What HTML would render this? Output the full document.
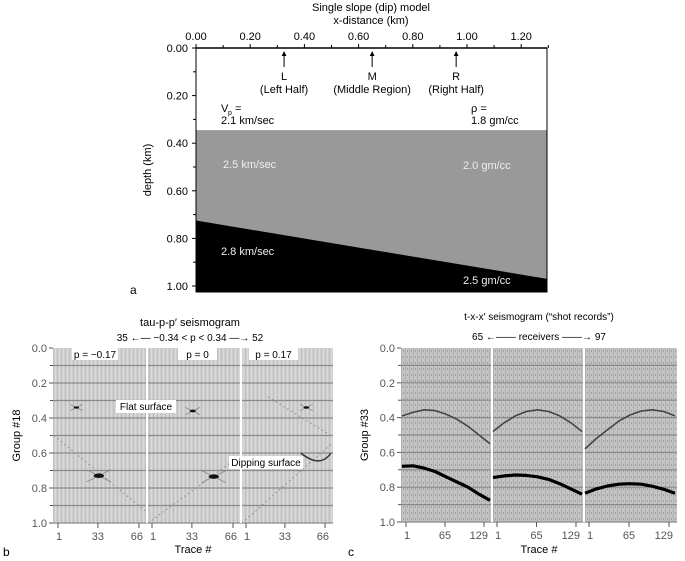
<!DOCTYPE html>
<html><head><meta charset="utf-8"><style>
body{margin:0;background:#fff;}
svg{display:block;font-family:"Liberation Sans",sans-serif;}
</style></head><body>
<svg id="fig" width="685" height="561" viewBox="0 0 685 561">
<defs>
<pattern id="stripeB" width="4" height="10" patternUnits="userSpaceOnUse">
<rect width="4" height="10" fill="#cfcfcf"/><rect x="1" width="1" height="10" fill="#c0c0c0"/><rect x="3" width="1" height="10" fill="#dadada"/>
</pattern>
<pattern id="stripeC" width="4" height="6" patternUnits="userSpaceOnUse">
<rect width="4" height="6" fill="#c4c4c4"/><rect x="1" width="1" height="6" fill="#b0b0b0"/><rect x="3" y="2" width="1" height="2" fill="#a0a0a0"/>
</pattern>
<marker id="arr" viewBox="0 0 6 6" refX="5" refY="3" markerWidth="5" markerHeight="5" orient="auto"><path d="M0,0L6,3L0,6z" fill="#000"/></marker>
</defs>
<g id="panelA"></g>
<g id="panelB"></g>
<g id="panelC"></g>
</svg>
<script>
// ---- Panel A data ----
const aXTicks = [0, 0.2, 0.4, 0.6, 0.8, 1.0, 1.2];
const aYTicks = [0, 0.2, 0.4, 0.6, 0.8, 1.0];
const layer1Depth = 0.345;
const dipLeftDepth = 0.725;
const dipRightDepth = 0.97;
const markerX = [0.325, 0.65, 0.96];
const markerNames = ["L", "M", "R"];
const markerDesc = ["(Left Half)", "(Middle Region)", "(Right Half)"];
// ---- Panel B data ----
const bGroupTicks = [0, 0.2, 0.4, 0.6, 0.8, 1.0];
const bPLabels = ["p = \u22120.17", "p = 0", "p =  0.17"];
const bBlobTrace = [17, 33, 33, 48, 48];
const bBlobSub = [0, 0, 1, 1, 2];
const bBlobTime = [0.34, 0.73, 0.36, 0.735, 0.34];
const bBlobSize = [1, 2.0, 1.2, 2.0, 1.1];
// ---- Panel C data ----
const cTraces = [1, 17, 33, 49, 65, 81, 97, 113, 129];
const cUpper = [
 [0.39, 0.37, 0.355, 0.36, 0.38, 0.41, 0.45, 0.50, 0.55],
 [0.48, 0.43, 0.39, 0.365, 0.355, 0.365, 0.39, 0.43, 0.48],
 [0.58, 0.52, 0.47, 0.42, 0.385, 0.362, 0.355, 0.365, 0.39]];
const cLower = [
 [0.68, 0.677, 0.69, 0.71, 0.74, 0.77, 0.80, 0.84, 0.875],
 [0.745, 0.735, 0.73, 0.732, 0.74, 0.755, 0.78, 0.81, 0.84],
 [0.835, 0.81, 0.793, 0.783, 0.78, 0.783, 0.795, 0.812, 0.835]];

const NS = "http://www.w3.org/2000/svg";
function mk(parent, tag, attrs, text){
  const e = document.createElementNS(NS, tag);
  for (const k in attrs) e.setAttribute(k, attrs[k]);
  if (text !== undefined) e.textContent = text;
  parent.appendChild(e); return e;
}
const A = document.getElementById("panelA");
const B = document.getElementById("panelB");
const C = document.getElementById("panelC");

// ===== Panel A =====
const ax = v => 196 + v * 271;
const ay = v => 48 + v * 238;
const aRight = 547, aBottom = 292;
let t;
t = mk(A, "rect", {x:196, y:48, width:aRight-196, height:aBottom-48, fill:"#fff"});


t = mk(A, "rect", {x:196, y:ay(layer1Depth), width:aRight-196, height:aBottom-ay(layer1Depth), fill:"#999"});


t = mk(A, "polygon", {points:`196,${ay(dipLeftDepth)} ${aRight},${ay(dipRightDepth)} ${aRight},${aBottom} 196,${aBottom}`, fill:"#000"});


mk(A, "rect", {x:196, y:48, width:aRight-196, height:aBottom-48, fill:"none", stroke:"#000", "stroke-width":1});
t = mk(A, "line", {x1:196, y1:48, x2:aRight, y2:48, stroke:"#000", "stroke-width":1.5});
aXTicks.forEach(v=>{
  mk(A,"line",{x1:ax(v),y1:44,x2:ax(v),y2:48,stroke:"#000"});
  mk(A,"line",{x1:ax(v+0.1),y1:45,x2:ax(v+0.1),y2:48,stroke:"#000"});
  t = mk(A,"text",{x:ax(v),y:40,"font-size":11,"text-anchor":"middle"}, v.toFixed(2));
  
  
});
aYTicks.forEach(v=>{
  mk(A,"line",{x1:192,y1:ay(v),x2:196,y2:ay(v),stroke:"#000"});
  if (v<1) mk(A,"line",{x1:193,y1:ay(v+0.1),x2:196,y2:ay(v+0.1),stroke:"#000"});
  t = mk(A,"text",{x:188,y:ay(v)+4,"font-size":11,"text-anchor":"end"}, v.toFixed(2));
  
  
});
t = mk(A,"text",{x:371,y:11,"font-size":11,"text-anchor":"middle"},"Single slope (dip) model");


t = mk(A,"text",{x:371,y:24,"font-size":11,"text-anchor":"middle"},"x-distance (km)");


t = mk(A,"text",{x:151,y:170,"font-size":11,"text-anchor":"middle",transform:"rotate(-90 151 170)"},"depth (km)");


mk(A,"text",{x:130,y:294,"font-size":12},"a");
markerX.forEach((v,i)=>{
  mk(A,"line",{x1:ax(v),y1:67,x2:ax(v),y2:52,stroke:"#000","marker-end":"url(#arr)"});
  t = mk(A,"text",{x:ax(v),y:80,"font-size":11,"text-anchor":"middle"},markerNames[i]);
  
  
  mk(A,"text",{x:ax(v),y:93,"font-size":11,"text-anchor":"middle"},markerDesc[i]);
});
mk(A,"text",{x:221,y:112,"font-size":11},"V");
mk(A,"text",{x:228,y:115,"font-size":7},"p");
mk(A,"text",{x:235,y:112,"font-size":11},"=");
mk(A,"text",{x:221,y:124,"font-size":11},"2.1 km/sec");
mk(A,"text",{x:471,y:112,"font-size":11},"\u03c1 =");
mk(A,"text",{x:471,y:124,"font-size":11},"1.8 gm/cc");
mk(A,"text",{x:223,y:168,"font-size":11,fill:"#eee"},"2.5 km/sec");
mk(A,"text",{x:463,y:169,"font-size":11,fill:"#eee"},"2.0 gm/cc");
mk(A,"text",{x:221,y:255,"font-size":11,fill:"#eee"},"2.8 km/sec");
mk(A,"text",{x:463,y:284,"font-size":11,fill:"#eee"},"2.5 gm/cc");

// ===== Seismogram panel builder =====
function seisPanel(G, x0, x1, y0, y1, seps, fill, nTr, tickVals, yTitle){
  const sub = [x0, ...seps, x1];
  const yy = v => y0 + v*(y1-y0);
  t = mk(G,"rect",{x:x0,y:y0,width:x1-x0,height:y1-y0,fill:fill});
  
  
  for (let k=1;k<=10;k++){
    mk(G,"line",{x1:x0,y1:yy(k/10),x2:x1,y2:yy(k/10),stroke:"#8a8a8a","stroke-width":1.2});
  }
  seps.forEach(s=>mk(G,"rect",{x:s-1,y:y0,width:2,height:y1-y0,fill:"#fff"}));
  bGroupTicks.forEach(v=>{
    mk(G,"line",{x1:x0-4,y1:yy(v),x2:x0,y2:yy(v),stroke:"#555"});
    if (v<1) mk(G,"line",{x1:x0-3,y1:yy(v+0.1),x2:x0,y2:yy(v+0.1),stroke:"#555"});
    t = mk(G,"text",{x:x0-6,y:yy(v)+4,"font-size":11,"text-anchor":"end",fill:"#555"},v.toFixed(1));
    
    
  });
  const txs = [];
  for (let i=0;i<3;i++){
    const a = sub[i]+1, b = sub[i+1]-2;
    const tx = tr => a + (tr-1)/(nTr-1)*(b-a);
    txs.push(tx);
    const lab = tr => a + 4 + (tr-1)/(nTr-1)*(b-a-10);
    tickVals.forEach(tv=>{
      mk(G,"line",{x1:lab(tv),y1:y1,x2:lab(tv),y2:y1+5,stroke:"#555"});
      const anc = tv===tickVals[0] ? "start" : (tv===tickVals[2] ? "end" : "middle");
      const ox = tv===tickVals[0] ? -2 : (tv===tickVals[2] ? 4 : 0);
      t = mk(G,"text",{x:lab(tv)+ox,y:y1+17,"font-size":11,"text-anchor":anc,fill:"#555"},String(tv));
      
      
    });
  }
  t = mk(G,"text",{x:x0-33,y:(y0+y1)/2,"font-size":11,"text-anchor":"middle",transform:`rotate(-90 ${x0-33} ${(y0+y1)/2})`},yTitle);
  
  
  t = mk(G,"text",{x:(x0+x1)/2,y:553,"font-size":11,"text-anchor":"middle"},"Trace #");
  
  
  return {yy, txs};
}

// ===== Panel B =====
const pb = seisPanel(B, 53, 333, 348, 523, [147, 241], "url(#stripeB)", 66, [1,33,66], "Group #18");
[[0,1,0.5,66,0.93],[1,1,1.0,66,0.62],[2,1,1.0,66,0.55],[2,20,0.28,66,0.5]].forEach(d=>{
  const tx = pb.txs[d[0]];
  mk(B,"line",{x1:tx(d[1]),y1:pb.yy(d[2]),x2:tx(d[3]),y2:pb.yy(d[4]),stroke:"#888","stroke-width":1,"stroke-dasharray":"1.5 3"});
});
bBlobTrace.forEach((tr,i)=>{
  const tx = pb.txs[bBlobSub[i]];
  const cx = tx(tr), cy = pb.yy(bBlobTime[i]), s = bBlobSize[i];
  mk(B,"path",{d:`M${cx-6*s},${cy-3*s} L${cx+6*s},${cy+3*s} M${cx-6*s},${cy+3*s} L${cx+6*s},${cy-3*s}`,stroke:"#888","stroke-width":0.8,fill:"none"});
  t = mk(B,"ellipse",{cx:cx,cy:cy,rx:2.6*s,ry:1.1*s,fill:"#111"});
  
  
});
mk(B,"path",{d:`M${pb.txs[2](44)},${pb.yy(0.6)} Q${pb.txs[2](58)},${pb.yy(0.69)} ${pb.txs[2](66)},${pb.yy(0.6)}`,fill:"none",stroke:"#333","stroke-width":1.5});
[[75,348,40],[181,348,33],[252,348,43]].forEach((p,i)=>{
  mk(B,"rect",{x:p[0]-3,y:p[1],width:p[2]+6,height:12,fill:"#fff"});
  t = mk(B,"text",{x:p[0]+p[2]/2,y:p[1]+10,"font-size":10,"text-anchor":"middle"},bPLabels[i]);
  
  
});
mk(B,"rect",{x:116,y:400,width:60,height:13,fill:"#fff"});
mk(B,"text",{x:146,y:410,"font-size":10,"text-anchor":"middle"},"Flat surface");
mk(B,"rect",{x:229,y:456,width:74,height:13,fill:"#fff"});
mk(B,"text",{x:266,y:466,"font-size":10,"text-anchor":"middle"},"Dipping surface");
t = mk(B,"text",{x:190,y:326,"font-size":11,"text-anchor":"middle"},"tau-p-p\u2032 seismogram");


mk(B,"text",{x:190,y:341,"font-size":10,"text-anchor":"middle"},"35 \u2190\u2014 \u22120.34 < p < 0.34 \u2014\u2192 52");
mk(B,"text",{x:3,y:556,"font-size":12},"b");

// ===== Panel C =====
const pc = seisPanel(C, 401, 677, 348, 522, [492, 584], "url(#stripeC)", 129, [1,65,129], "Group #33");
function curve(tx, vals, w, col){
  const d = cTraces.map((tr,i)=>(i?"L":"M")+tx(tr).toFixed(1)+","+pc.yy(vals[i]).toFixed(1)).join(" ");
  return mk(C,"path",{d:d,fill:"none",stroke:col,"stroke-width":w,"stroke-linejoin":"round"});
}
for (let i=0;i<3;i++){
  t = curve(pc.txs[i], cUpper[i], 1.6, "#444");
  
  
  t = curve(pc.txs[i], cLower[i], 3.2, "#000");
  
  
}
t = mk(C,"text",{x:539,y:320,"font-size":10,"text-anchor":"middle"},"t-x-x\u2032 seismogram (\u201cshot records\u201d)");


mk(C,"text",{x:539,y:340,"font-size":10,"text-anchor":"middle"},"65 \u2190\u2014\u2014 receivers \u2014\u2014\u2192 97");
mk(C,"text",{x:348,y:556,"font-size":12},"c");
</script>
</body></html>
